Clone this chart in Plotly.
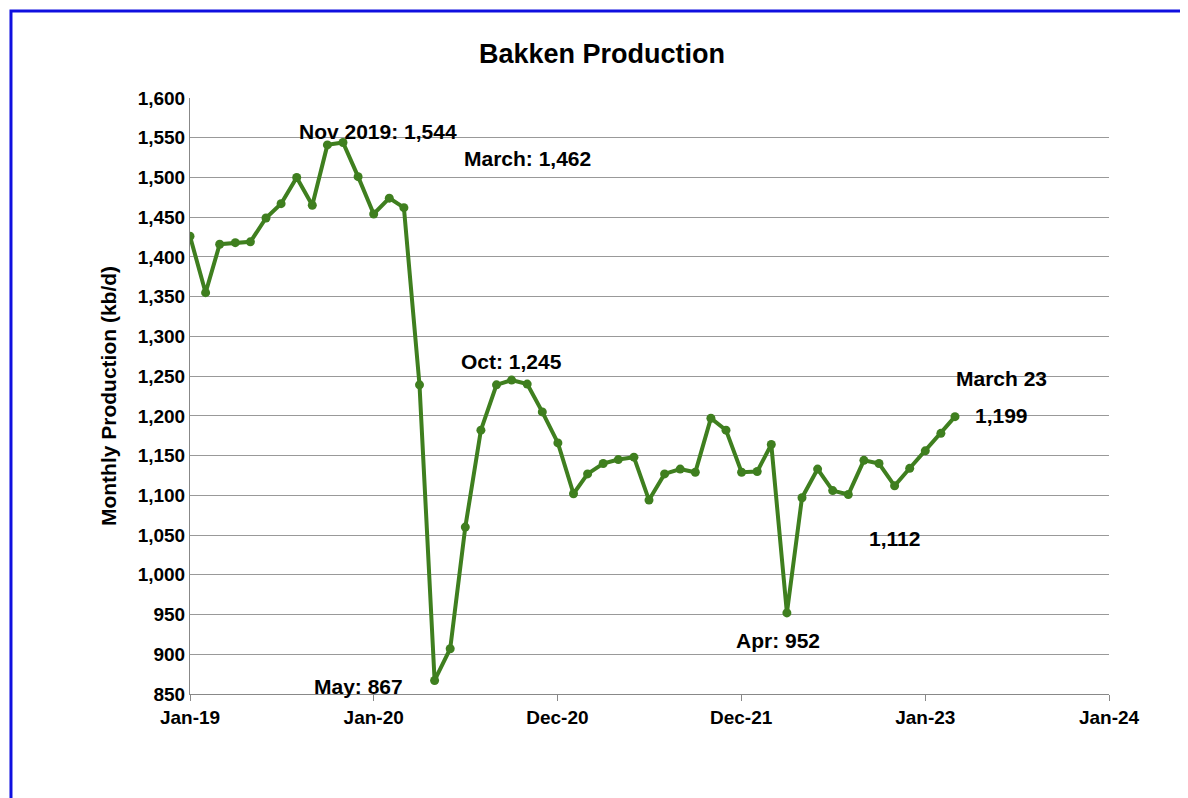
import plotly.graph_objects as go
import pandas as pd

months = pd.date_range("2019-01-01", "2023-03-01", freq="MS")
production = [1426, 1355, 1416, 1418, 1419, 1449, 1467, 1500, 1465, 1541, 1544, 1501,
              1454, 1474, 1462, 1239, 867, 907, 1060, 1182, 1239, 1245, 1240, 1205,
              1166, 1102, 1127, 1140, 1145, 1148, 1094, 1127, 1133, 1129, 1197, 1182,
              1129, 1130, 1164, 952, 1097, 1133, 1106, 1101, 1144, 1140, 1112, 1134,
              1156, 1178, 1199]
tick_dates = ["2019-01-01", "2020-01-01", "2020-12-31", "2021-12-31", "2023-01-01", "2024-01-01"]
tick_text = ["Jan-19", "Jan-20", "Dec-20", "Dec-21", "Jan-23", "Jan-24"]
notes = [("2020-01-10", 1558, "Nov 2019: 1,544"), ("2020-11-01", 1524, "March: 1,462"),
         ("2020-10-01", 1269, "Oct: 1,245"), ("2019-12-01", 859, "May: 867"),
         ("2022-03-15", 917, "Apr: 952"), ("2022-11-01", 1046, "1,112"),
         ("2023-06-01", 1247, "March 23"), ("2023-06-01", 1201, "1,199")]

fig = go.Figure(go.Scatter(x=months, y=production, mode="lines+markers",
                           line=dict(color="#3f7f1f", width=4),
                           marker=dict(color="#3f7f1f", size=9)))
for x, y, t in notes:
    fig.add_annotation(x=x, y=y, text="<b>" + t + "</b>", showarrow=False,
                       font=dict(size=21, color="black", family="Liberation Sans"))
fig.update_layout(
    width=1188, height=798, plot_bgcolor="white", paper_bgcolor="white",
    margin=dict(l=182, r=87, t=90, b=112), showlegend=False,
    font=dict(family="Liberation Sans", color="black", size=19),
    title=dict(text="<b>Bakken Production</b>", x=0.5, xanchor="center", y=0.955,
               font=dict(size=27)),
    shapes=[dict(type="rect", xref="paper", yref="paper", x0=-0.1948, x1=1.0892,
                 y0=-0.1795, y1=1.146, line=dict(color="#1010e0", width=3))],
)
fig.update_xaxes(type="date", range=["2019-01-01", "2024-01-01"], tickvals=tick_dates,
                 ticktext=["<b>" + t + "</b>" for t in tick_text], showgrid=False,
                 showline=True, linecolor="#888",
                 ticks="outside", tickcolor="#888", ticklen=6,
                 tickfont=dict(size=19, family="Liberation Sans"))
fig.update_yaxes(range=[850, 1600], dtick=50, tickformat=",", showgrid=True,
                 gridcolor="#999", gridwidth=1.3, showline=True, linecolor="#888",
                 tickprefix="<b>", ticksuffix="</b>",
                 title=dict(text="<b>Monthly Production (kb/d)</b>", font=dict(size=21)),
                 tickfont=dict(size=19))
fig.write_html("out.html")
